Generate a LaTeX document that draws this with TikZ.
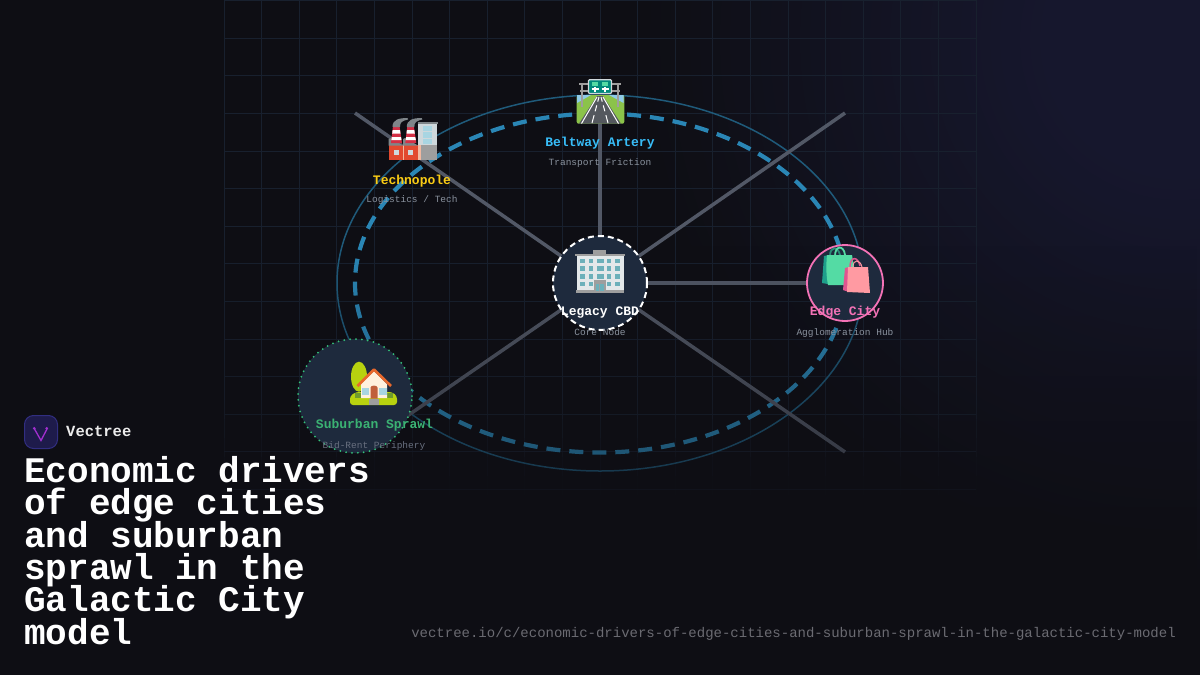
\documentclass[tikz,border=0pt]{standalone}
\usepackage{fontspec}
\setmainfont{Liberation Mono}
\usetikzlibrary{fadings,calc}
\AtBeginDocument{\lineskiplimit=-100pt\relax}
\definecolor{basebg}{HTML}{0E0E14}
\definecolor{glowbg}{HTML}{16172D}
\definecolor{gridc}{HTML}{18202E}
\definecolor{ringc}{HTML}{2A86B5}
\definecolor{ringo}{HTML}{1F5A7A}
\definecolor{spokec}{HTML}{525866}
\definecolor{discc}{HTML}{1E2A3D}
\definecolor{subc}{HTML}{8A929E}
\definecolor{subdim}{HTML}{697080}
\definecolor{techc}{HTML}{FACC15}
\definecolor{beltc}{HTML}{38BDF8}
\definecolor{edgec}{HTML}{F472B6}
\definecolor{sprawlc}{HTML}{3BB273}
\definecolor{dotc}{HTML}{34C27A}
\definecolor{pale}{HTML}{CFD8DC}
\definecolor{midgray}{HTML}{9E9E9E}
\definecolor{dkgray}{HTML}{7F8589}
\definecolor{glass}{HTML}{A8D5E2}
\definecolor{fred}{HTML}{E2492F}
\definecolor{sred}{HTML}{D32F45}
\definecolor{peach}{HTML}{F2B8A0}
\definecolor{lawn}{HTML}{8BC34A}
\definecolor{sky}{HTML}{8FCBE8}
\definecolor{asphalt}{HTML}{54585E}
\definecolor{signg}{HTML}{00897B}
\definecolor{wall}{HTML}{E3E8EA}
\definecolor{teal}{HTML}{6CB0BA}
\definecolor{bagg}{HTML}{54DBA4}
\definecolor{baggd}{HTML}{1E9E8A}
\definecolor{bagh}{HTML}{2A8C78}
\definecolor{bagp}{HTML}{FF9AA2}
\definecolor{bagpd}{HTML}{DF5590}
\definecolor{lime}{HTML}{B8D20F}
\definecolor{hedge}{HTML}{6F9A2E}
\definecolor{cream}{HTML}{FFF1DE}
\definecolor{roof}{HTML}{E8682C}
\definecolor{doorc}{HTML}{C0603C}
\definecolor{logof}{HTML}{1E1B4B}
\definecolor{logod}{HTML}{312E81}
\definecolor{logov}{HTML}{A22FD0}
\definecolor{urlc}{HTML}{6B6B72}
\tikzfading[name=fadedown, top color=transparent!100, bottom color=transparent!35]
\pgfdeclarelayer{under}
\pgfsetlayers{under,main}
\tikzset{
  gridline/.style={gridc, line width=0.8pt},
  spoke/.style={spokec, line width=3.5pt},
  hub/.style={circle, inner sep=0pt, fill=discc},
  lab/.style={anchor=base, inner sep=0pt, font=\fontsize{13}{15}\selectfont\bfseries},
  sublab/.style={anchor=base, inner sep=0pt, text=subc, font=\fontsize{9.5}{11}\selectfont},
}
\begin{document}
\begin{tikzpicture}[x=1pt,y=-1pt]
\useasboundingbox (0,0) rectangle (1200,675);
\begin{pgfonlayer}{under}
  \fill[basebg] (0,0) rectangle (1200,675);
  \begin{scope}
    \clip (0,0) rectangle (1200,675);
    \foreach \i in {0,...,40} {
      \pgfmathsetmacro\rr{540-10*\i}
      \pgfmathsetmacro\mixv{2.5*\i}
      \fill[glowbg!\mixv!basebg] (1180,40) circle[radius=\rr];
    }
  \end{scope}
  % grid
  \foreach \k in {0,...,20} {
    \pgfmathsetmacro\gx{224+37.6*\k}
    \draw[gridline] (\gx,0) -- (\gx,400);
    \foreach \s in {0,...,4} {
      \pgfmathsetmacro\yA{400+19*\s}
      \pgfmathsetmacro\yB{419+19*\s}
      \pgfmathsetmacro\mv{90-20*\s}
      \draw[gridc!\mv!basebg, line width=0.8pt] (\gx,\yA) -- (\gx,\yB);
    }
  }
  \foreach \k in {0,...,12} {
    \pgfmathsetmacro\gy{0.5+37.6*\k}
    \draw[gridline] (224,\gy) -- (976,\gy);
  }
  \draw[gridc!60!basebg, line width=0.8pt] (224,489.5) -- (976,489.5);
  % rings
  \draw[ringo, line width=1.5pt] (600,283) ellipse[x radius=263, y radius=188];
  \draw[ringc, line width=4.2pt, dash pattern=on 14pt off 9pt] (600,283) ellipse[x radius=245, y radius=169.5];
\end{pgfonlayer}

\coordinate (nw) at (355,113);
\coordinate (ne) at (845,113);
\coordinate (sw) at (355,452);
\coordinate (se) at (845,452);
\coordinate (north) at (600,113);

\node[hub, minimum size=94pt, draw=white, line width=2pt, dash pattern=on 6pt off 4pt] (cbd) at (600,283) {};
\node[hub, minimum size=76pt, draw=edgec, line width=1.8pt] (edge) at (845,283) {};
\node[hub, minimum size=114pt, draw=dotc, line width=2pt, line cap=round, dash pattern=on 0pt off 5.9pt] (sprawl) at (355,396) {};

\begin{pgfonlayer}{under}
  \draw[spoke] (cbd.center) -- (nw);
  \draw[spoke] (cbd.center) -- (ne);
  \draw[spoke] (cbd.center) -- (sw);
  \draw[spoke] (cbd.center) -- (se);
  \draw[spoke] (cbd.center) -- (north);
  \draw[spoke] (cbd.center) -- (edge.center);
  % darkening toward the bottom
  \fill[basebg, path fading=fadedown] (200,245) rectangle (1200,585);
\end{pgfonlayer}

% ---------- factory icon
\fill[pale] (418.3,123) rectangle (437,146);
\fill[dkgray] (418,121.5) rectangle (437.5,123.5);
\fill[glass] (423,125.5) rectangle (431.5,131);
\fill[glass] (423,132) rectangle (431.5,137.5);
\fill[glass] (423,138.5) rectangle (431.5,144);
\fill[midgray] (421,145) rectangle (437,160);
\fill[peach] (418.3,145) rectangle (421,160);
\fill[fred] (388.5,145) rectangle (403,160);
\fill[fred] (404,145) rectangle (418.3,160);
\fill[peach] (403,145) rectangle (404,160);
\fill[pale] (393.5,150) rectangle (398.5,155);
\fill[pale] (408,150) rectangle (413,155);
\fill[dkgray] (388.5,145.5) -- (388.5,139) -- (391,138) -- (403,145.5) -- cycle;
\fill[dkgray] (403,145.5) -- (403,139) -- (405,138) -- (418,145.5) -- cycle;
\foreach \dx in {0,14.3} {
  \begin{scope}[xshift=\dx pt]
    \fill[sred] (393,126) -- (399.5,126) -- (402,143) -- (391,143) -- cycle;
    \fill[white] (392.6,130) -- (400,130) -- (400.5,133.5) -- (392.2,133.5) -- cycle;
    \fill[white] (391.8,137) -- (401,137) -- (401.5,140) -- (391.4,140) -- cycle;
    \fill[dkgray] (392.5,127) .. controls (392.5,120) and (398,118) .. (407.5,118) -- (408,119.5) .. controls (402,121) and (400,122) .. (400,127) -- cycle;
  \end{scope}
}
% ---------- highway icon
\fill[lawn, rounded corners=2pt] (576.7,95) rectangle (624.3,123.7);
\fill[sky] (577,95) -- (591,95) -- (577,103) -- cycle;
\fill[sky] (623.5,95) -- (609,95) -- (623.5,103) -- cycle;
\fill[asphalt] (597,96) -- (603,96) -- (621,123.7) -- (579,123.7) -- cycle;
\draw[white, line width=1pt] (597,97) -- (581.5,123.5);
\draw[white, line width=1pt] (603,97) -- (618.5,123.5);
\foreach \a/\b in {0/0.18, 0.32/0.55, 0.7/1} {
  \draw[white, line width=1pt] ($(599,97)!\a!(592,123)$) -- ($(599,97)!\b!(592,123)$);
  \draw[white, line width=1pt] ($(601,97)!\a!(608,123)$) -- ($(601,97)!\b!(608,123)$);
}
\draw[midgray, line width=2pt] (582,83) -- (582,107);
\draw[midgray, line width=2pt] (617.5,83) -- (617.5,107);
\draw[midgray, line width=1.3pt] (579,84) -- (621,84);
\draw[midgray, line width=1.3pt] (580,91) -- (620,91);
\fill[signg, draw=pale, line width=1.2pt, rounded corners=1pt] (588.5,79.8) rectangle (611.5,93.5);
\fill[bagg] (592,81.5) rectangle (598,85.5);
\fill[bagg] (602,81.5) rectangle (608,85.5);
\draw[white, line width=1.3pt] (595,86.5) -- (595,92);
\draw[white, line width=1.3pt] (591.5,89) -- (598.5,89);
\draw[white, line width=1.3pt] (605,86.5) -- (605,92);
\draw[white, line width=1.3pt] (601.5,89) -- (608.5,89);
% ---------- office icon
\fill[wall] (576.5,255) rectangle (623.5,291);
\fill[midgray] (593.3,250) rectangle (605.7,254.5);
\fill[midgray] (575,253.5) rectangle (624.5,256);
\fill[midgray] (576,290) rectangle (624,293);
\foreach \ry in {258.5,266.2,273.9,281.6} {
  \foreach \cx/\w in {580/5, 588.5/4, 596.5/7, 606.8/4, 615/5} {
    \fill[teal] (\cx,\ry) rectangle (\cx+\w,\ry+4.6);
  }
}
\fill[midgray] (593.5,279.5) rectangle (606,291);
\fill[teal] (595.5,284) rectangle (599.3,291);
\fill[teal] (600.3,284) rectangle (604,291);
% ---------- shopping bags icon
\draw[bagh, line width=1.8pt] (830,256) .. controls (830,246) and (838,246) .. (840,255);
\draw[bagg, line width=1.8pt] (835,256) .. controls (835,245) and (844,245) .. (845,255);
\fill[baggd] (824,256) -- (829,255) -- (834,285) -- (822,283) -- cycle;
\fill[bagg] (827,255) -- (852,255) -- (857,285) -- (828,285) .. controls (826,275) and (826,265) .. (827,255) -- cycle;
\draw[bagpd, line width=1.5pt] (850,267) .. controls (850,256) and (858,256) .. (860,266);
\fill[bagpd] (845,268) -- (849,267) -- (849,292) -- (843,290) -- cycle;
\fill[bagp] (848,267) -- (868,267) -- (870,293) -- (847,292) -- cycle;
\draw[bagp, line width=1pt] (853,267) .. controls (853,259) and (860,259) .. (862,267);
% ---------- house icon
\fill[lime] (359,376.7) ellipse[x radius=8, y radius=15];
\fill[lime, rounded corners=3pt] (350,396) -- (356,392) -- (392,392) -- (397,396) -- (397,405) -- (350,405) -- cycle;
\fill[hedge] (355,393) rectangle (393,398);
\fill[cream] (374,371) -- (387,384) -- (387,398) -- (361,398) -- (361,384) -- cycle;
\draw[roof, line width=2.6pt, line join=round] (357.5,386) -- (374,369.5) -- (391,386);
\fill[glass] (362,388) rectangle (369,395);
\fill[glass] (379,388) rectangle (386.5,395);
\fill[doorc] (370.5,387.5) .. controls (370.5,385) and (377.5,385) .. (377.5,387.5) -- (377.5,398.5) -- (370.5,398.5) -- cycle;
\fill[midgray] (369,398.5) rectangle (379,404.5);

% ---------- labels
\node[lab, text=techc] (technopole) at (412,184) {Technopole};
\node[sublab] (technopolesub) at (412,202) {Logistics / Tech};
\node[lab, text=beltc] (beltway) at (600,146) {Beltway Artery};
\node[sublab] (beltwaysub) at (600,165.5) {Transport Friction};
\node[lab, text=white] (cbdlabel) at (600,315) {Legacy CBD};
\node[sublab] (cbdsub) at (600,335) {Core Node};
\node[lab, text=edgec] (edgelabel) at (845,315) {Edge City};
\node[sublab] (edgesub) at (845,335) {Agglomeration Hub};
\node[lab, text=sprawlc] (sprawllabel) at (374.5,428) {Suburban Sprawl};
\node[sublab, text=subdim] (sprawlsub) at (374,448) {Bid-Rent Periphery};

% ---------- brand and title
\node[draw=logod, fill=logof, rounded corners=9pt, minimum size=33pt, inner sep=0pt, line width=1pt] (logo) at (41,432) {};
\draw[logov, line width=1.3pt] (34.5,429) -- (41,440.5) -- (47,429);
\fill[logov] (34.3,428.3) circle[radius=1.5];
\fill[logov] (46.7,428.3) circle[radius=1.5];
\node[anchor=base west, inner sep=0pt, text=white!92!black, font=\fontsize{15.5}{18}\selectfont\bfseries] (brand) at (66,436) {Vectree};
\node[anchor=north west, inner sep=0pt, align=left, text=white, font=\fontsize{36}{32.4}\selectfont\bfseries] (title) at (24,456)
  {Economic drivers\\of edge cities\\and suburban\\sprawl in the\\Galactic City\\model};
\node[anchor=base east, inner sep=0pt, text=urlc, font=\fontsize{14}{16}\selectfont] (url) at (1176,637)
  {vectree.io/c/economic-drivers-of-edge-cities-and-suburban-sprawl-in-the-galactic-city-model};
\end{tikzpicture}
\end{document}
